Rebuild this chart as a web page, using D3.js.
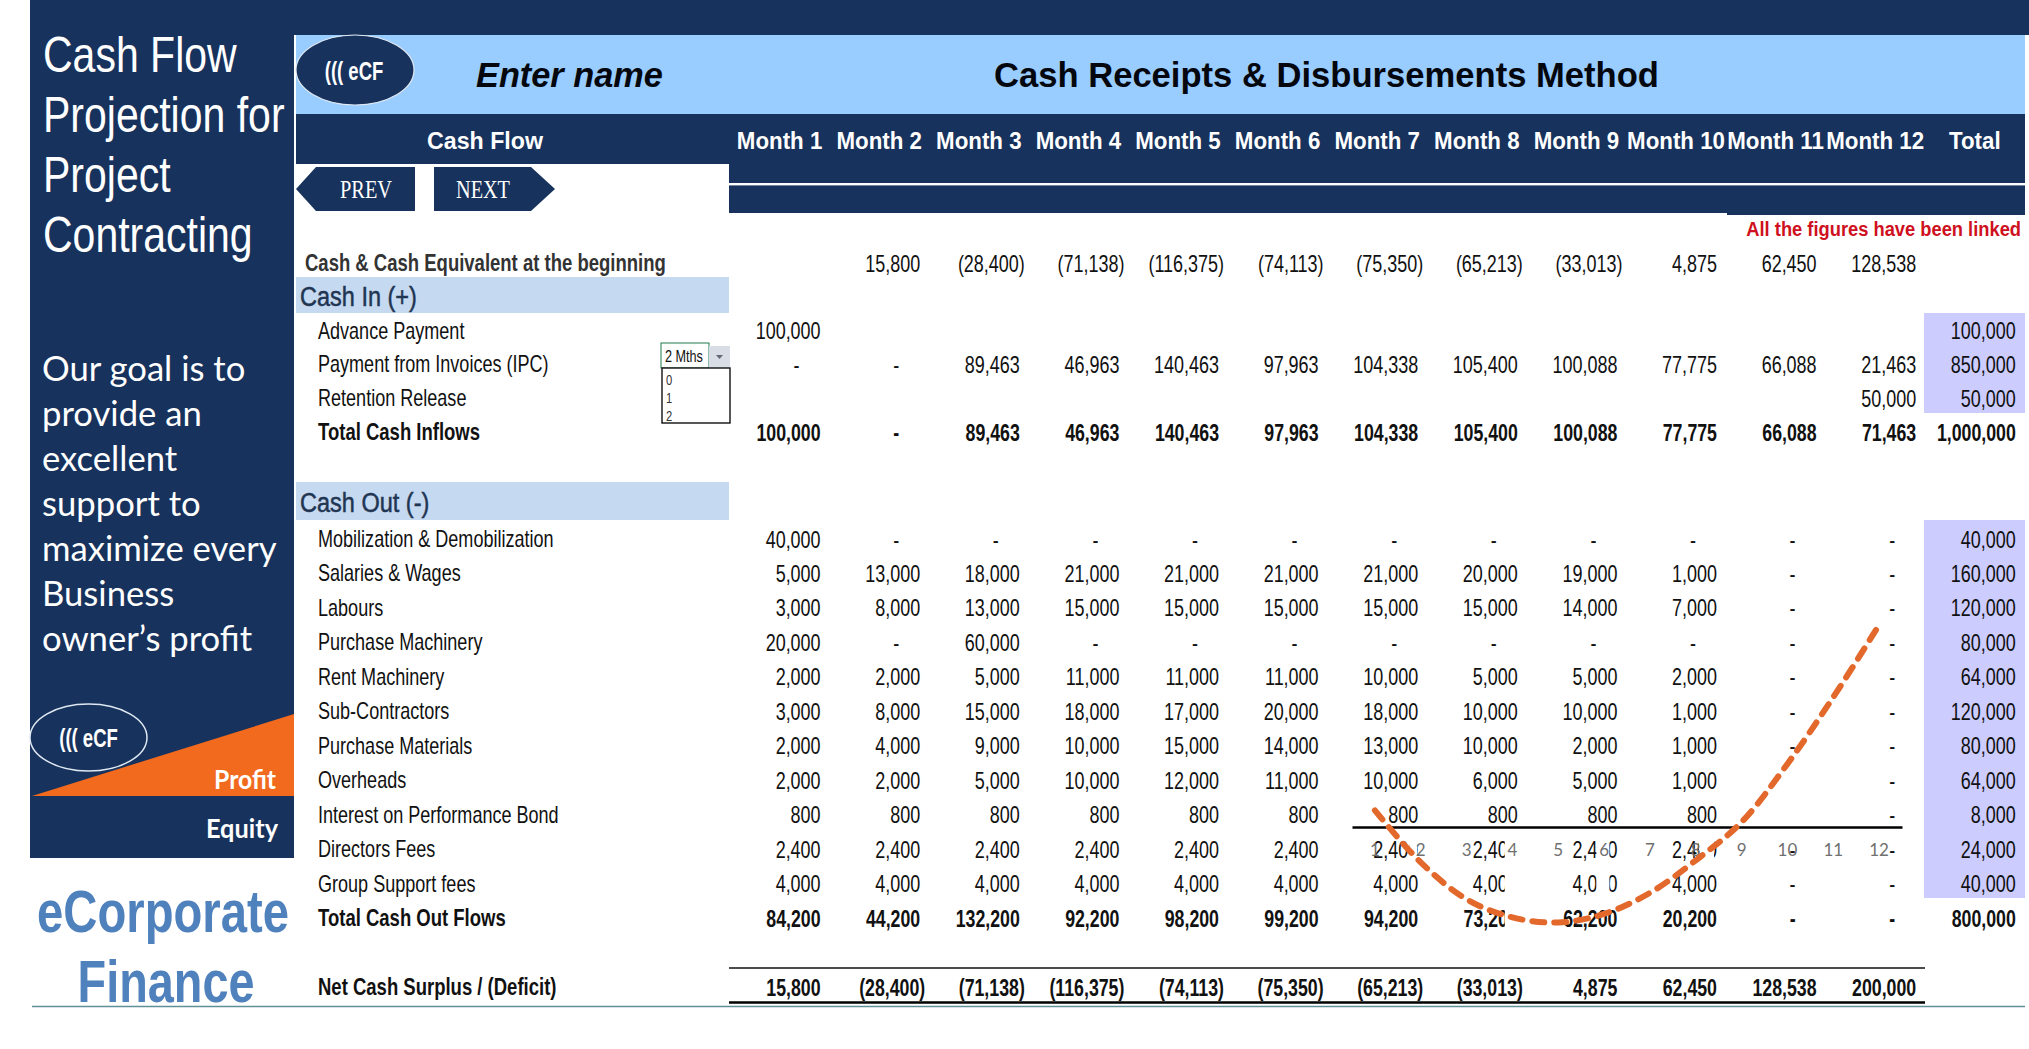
<!DOCTYPE html>
<html><head><meta charset="utf-8">
<script src="https://cdn.jsdelivr.net/npm/d3@7/dist/d3.min.js"></script>
<style>html,body{margin:0;padding:0;background:#fff;overflow:hidden}svg{display:block}</style>
</head><body><svg id="c" width="2029" height="1049"></svg>
<script>
// ---------- data ----------
const columns = ["Month 1","Month 2","Month 3","Month 4","Month 5","Month 6","Month 7","Month 8","Month 9","Month 10","Month 11","Month 12","Total"];
const _ = null;
const beginning   = [_,15800,-28400,-71138,-116375,-74113,-75350,-65213,-33013,4875,62450,128538,_];
const advance     = [100000,_,_,_,_,_,_,_,_,_,_,_,100000];
const invoices    = [0,0,89463,46963,140463,97963,104338,105400,100088,77775,66088,21463,850000];
const retention   = [_,_,_,_,_,_,_,_,_,_,_,50000,50000];
const totalIn     = [100000,0,89463,46963,140463,97963,104338,105400,100088,77775,66088,71463,1000000];
const mobilization= [40000,0,0,0,0,0,0,0,0,0,0,0,40000];
const salaries    = [5000,13000,18000,21000,21000,21000,21000,20000,19000,1000,0,0,160000];
const labours     = [3000,8000,13000,15000,15000,15000,15000,15000,14000,7000,0,0,120000];
const machinery   = [20000,0,60000,0,0,0,0,0,0,0,0,0,80000];
const rentMach    = [2000,2000,5000,11000,11000,11000,10000,5000,5000,2000,0,0,64000];
const subContract = [3000,8000,15000,18000,17000,20000,18000,10000,10000,1000,0,0,120000];
const materials   = [2000,4000,9000,10000,15000,14000,13000,10000,2000,1000,0,0,80000];
const overheads   = [2000,2000,5000,10000,12000,11000,10000,6000,5000,1000,_,0,64000];
const interest    = [800,800,800,800,800,800,800,800,800,800,_,0,8000];
const directors   = [2400,2400,2400,2400,2400,2400,2400,2400,2400,2400,0,0,24000];
const groupFees   = [4000,4000,4000,4000,4000,4000,4000,4000,4000,4000,0,0,40000];
const totalOut    = [84200,44200,132200,92200,98200,99200,94200,73200,62200,20200,0,0,800000];
const netCash     = [15800,-28400,-71138,-116375,-74113,-75350,-65213,-33013,4875,62450,128538,200000,_];
// overlaid dashed curve
const curveMonths = [1,2,3,4,5,6,7,8,9,10,11,12];
const curveValues = [16500,-35000,-71500,-89500,-94500,-86000,-65213,-33013,4875,62450,128538,200000];
const titleLines = ["Cash Flow","Projection for","Project","Contracting"];
const goalLines = ["Our goal is to","provide an","excellent","support to","maximize every","Business","owner\u2019s profit"];
const dropdownItems = ["0","1","2"];

const rows = [
 {label:"Cash & Cash Equivalent at the beginning",values:beginning,kind:"open"},
 {label:"Cash In (+)",kind:"section"},
 {label:"Advance Payment",values:advance},
 {label:"Payment from Invoices (IPC)",values:invoices},
 {label:"Retention Release",values:retention},
 {label:"Total Cash Inflows",values:totalIn,kind:"total"},
 {label:""},
 {label:"Cash Out (-)",kind:"section"},
 {label:"Mobilization & Demobilization",values:mobilization},
 {label:"Salaries & Wages",values:salaries},
 {label:"Labours",values:labours},
 {label:"Purchase Machinery",values:machinery},
 {label:"Rent Machinery",values:rentMach},
 {label:"Sub-Contractors",values:subContract},
 {label:"Purchase Materials",values:materials},
 {label:"Overheads",values:overheads},
 {label:"Interest on Performance Bond",values:interest},
 {label:"Directors Fees",values:directors},
 {label:"Group Support fees",values:groupFees},
 {label:"Total Cash Out Flows",values:totalOut,kind:"total"},
 {label:""},
 {label:"Net Cash Surplus / (Deficit)",values:netCash,kind:"total"}
];

// ---------- palette ----------
const NAVY="#17325C", SKY="#99CCFF", BAND="#C5D9F1", LILAC="#CCCCFF", ORANGE="#F26A1E", LINE="#E2682B", BRAND="#4F81BD";
const SANS="'Liberation Sans',Arial,sans-serif", HUMAN="Lato,sans-serif", SERIF="'Liberation Serif',serif";

const svg=d3.select("#c");
const R=(x,y,w,h,f)=>svg.append("rect").attr("x",x).attr("y",y).attr("width",w).attr("height",h).attr("fill",f);
const P=(pts,f)=>svg.append("polygon").attr("points",pts.map(p=>p.join(",")).join(" ")).attr("fill",f);
const H=(x1,x2,y,c,w)=>svg.append("line").attr("x1",x1).attr("x2",x2).attr("y1",y).attr("y2",y).attr("stroke",c).attr("stroke-width",w);
function T(x,y,s,o={}){
  const t=svg.append("text").text(s)
    .attr("font-family",o.font||SANS).attr("font-size",o.size||22)
    .attr("font-weight",o.weight||"normal").attr("font-style",o.style||"normal")
    .attr("fill",o.fill||"#111").attr("text-anchor",o.anchor||"start");
  let sx=o.sx||1;
  if(o.w){ sx=o.w/t.node().getComputedTextLength(); }
  t.attr("transform",`translate(${x},${y}) scale(${sx},1)`);
  return t;
}

// ---------- frame ----------
R(30,0,1999,35,NAVY);
R(30,0,264,858,NAVY);
R(296,35,1729,79,SKY);
R(296,114,1729,50,NAVY);
R(729,164,1296,49,NAVY);
R(1727,213,298,2,NAVY);
R(729,183,1296,2.4,"#fff");

// left panel
titleLines.forEach((s,i)=>T(43,72+60*i,s,{size:50,fill:"#fff",sx:.82}));
goalLines.forEach((s,i)=>T(42,381+45*i,s,{font:HUMAN,size:35,fill:"#fff",sx:.99}));
P([[32,796],[294,714],[294,796]],ORANGE);
svg.append("ellipse").attr("cx",88.5).attr("cy",737.5).attr("rx",58.5).attr("ry",33.5).attr("fill",NAVY).attr("stroke","#dfe8f2").attr("stroke-width",1.5);
T(88.5,747,"((( eCF",{size:25,weight:"bold",fill:"#fff",anchor:"middle",sx:.74});
T(276,789,"Profit",{font:HUMAN,size:27,weight:"bold",fill:"#fff",anchor:"end",w:62});
T(278,838,"Equity",{font:HUMAN,size:27,weight:"bold",fill:"#fff",anchor:"end",w:72});
T(163,932,"eCorporate",{size:59,weight:"bold",fill:BRAND,anchor:"middle",w:252});
T(166,1002,"Finance",{size:59,weight:"bold",fill:BRAND,anchor:"middle",w:177});

// header
svg.append("ellipse").attr("cx",355).attr("cy",70).attr("rx",59).attr("ry",35).attr("fill",NAVY).attr("stroke","#dfe8f2").attr("stroke-width",1.2);
T(354,80,"((( eCF",{size:25,weight:"bold",fill:"#fff",anchor:"middle",sx:.74});
T(476,87,"Enter name",{size:36,weight:"bold",style:"italic",fill:"#05070f",w:187});
T(994,87,"Cash Receipts & Disbursements Method",{size:36,weight:"bold",fill:"#05070f",w:665});
T(485,149,"Cash Flow",{size:24,weight:"bold",fill:"#fff",anchor:"middle",w:116});
T(2021,236,"All the figures have been linked",{size:21,weight:"bold",fill:"#CF1020",anchor:"end",w:275});

// prev / next
P([[296,189],[316,167],[415,167],[415,211],[316,211]],NAVY);
P([[434,167],[531,167],[555,189],[531,211],[434,211]],NAVY);
T(366,198,"PREV",{font:SERIF,size:25,fill:"#fff",anchor:"middle",w:52});
T(483,198,"NEXT",{font:SERIF,size:25,fill:"#fff",anchor:"middle",w:54});

// ---------- scales ----------
const xCol=d3.scaleBand().domain(columns).range([721,2015.8]).paddingInner(0).paddingOuter(0);
const rightEdge=c=>xCol(c)+xCol.bandwidth();
const yRow=d3.scaleLinear().domain([0,5,7,8,19,21]).range([263,432,503,539,918,987]);

// bands
rows.forEach((r,i)=>{ if(r.kind==="section") R(296,i===1?277:482,433,i===1?36:38,BAND); });
R(1924,313,101,100,LILAC);
R(1924,520,101,378,LILAC);

// column headers
columns.forEach(c=>T(rightEdge(c)-41,149,c,{size:24,weight:"bold",fill:"#fff",anchor:"middle",sx:.93}));

// row labels
rows.forEach((r,i)=>{
  if(!r.label) return;
  const y=yRow(i)+8;
  if(r.kind==="section") T(300,y+1,r.label,{size:28,fill:"#1f3552",sx:.84}).attr("stroke","#1f3552").attr("stroke-width",.5);
  else if(r.kind==="open") T(305,y,r.label,{size:23,weight:"bold",fill:"#333",sx:.805});
  else if(r.kind==="total") T(318,y,r.label,{size:23,weight:"bold",sx:.805});
  else T(318,y,r.label,{size:23,sx:.785});
});

// values
const fmt=d3.format(",");
const cellText=v=> v===0?"-": v<0?`(${fmt(-v)})`:fmt(v);
const cellX=(c,v)=>rightEdge(c)+(v===0?-21:(v<0?5:0));
rows.forEach((r,i)=>{
  if(!r.values) return;
  r.values.forEach((v,j)=>{
    if(v===null) return;
    const c=columns[j];
    T(cellX(c,v),yRow(i)+8.5,cellText(v),{size:23.5,weight:r.kind==="total"?"bold":"normal",anchor:"end",sx:r.kind==="total"?.755:.765});
  });
});

// net rules
H(729,1925,968,"#111",1.6);
H(729,1925,1002.5,"#000",2.6);
H(32,2025,1006.5,"#5f8f99",1.4);

// dropdown
R(661,343,48,25,"#fff").attr("stroke","#1f7a4d").attr("stroke-width",1);
R(709,346,21,22,"#d9dee6");
P([[716,355],[723,355],[719.5,359]],"#667");
R(662,368,68,55,"#fff").attr("stroke","#111").attr("stroke-width",1.4);
T(665,362,"2 Mths",{size:16,w:38});
dropdownItems.forEach((s,i)=>T(666,385+18*i,s,{size:14,sx:.8,fill:"#333"}));

// ---------- overlaid chart ----------
const xChart=d3.scaleBand().domain(curveMonths).range([1352,1902]);
const yChart=d3.scaleLinear().domain([-150000,250000]).range([978.5,574.5]);
const axisY=yChart(0);

// white patches belonging to the chart's labels
const patch=(m,l,r,top,h)=>R(rightEdge(columns[m-1])-l,top,l-r,h,"#fff");
patch(7,9,1,838,26);
patch(8,13,-3,838,90);
patch(9,21,8,838,60);
patch(10,18,3,838,26);

const axis=d3.axisBottom(xChart).tickSize(0).tickPadding(17);
const ag=svg.append("g").attr("transform",`translate(0,${axisY})`).call(axis);
ag.select(".domain").attr("stroke","#000").attr("stroke-width",2.6);
ag.selectAll("text").attr("font-family",HUMAN).attr("font-size",17).attr("fill","#707070");

const line=d3.line().x((d,i)=>xChart(curveMonths[i])+xChart.bandwidth()/2).y(d=>yChart(d)).curve(d3.curveCatmullRom.alpha(0.5));
svg.append("path").datum(curveValues).attr("d",line).attr("fill","none")
  .attr("stroke",LINE).attr("stroke-width",6).attr("stroke-dasharray","12 10").attr("stroke-linecap","round");
</script></body></html>
